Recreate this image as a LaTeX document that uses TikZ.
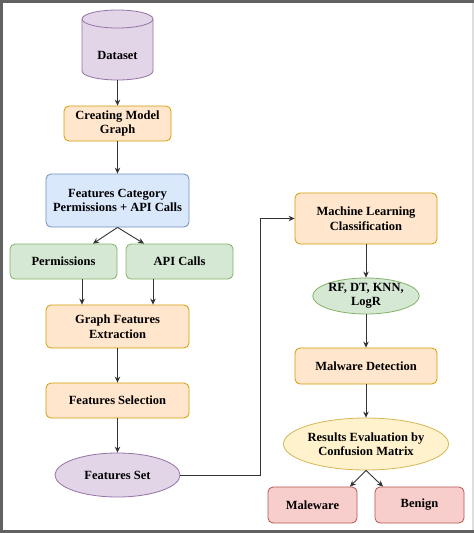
\documentclass[tikz,border=0pt]{standalone}
\usepackage{fontspec}
\setmainfont{Liberation Serif}
\usetikzlibrary{arrows.meta,shapes.geometric}
\definecolor{orF}{HTML}{FFE6CC}\definecolor{orD}{HTML}{D79B00}
\definecolor{blF}{HTML}{DAE8FC}\definecolor{blD}{HTML}{6C8EBF}
\definecolor{grF}{HTML}{D5E8D4}\definecolor{grD}{HTML}{82B366}
\definecolor{puF}{HTML}{E1D5E7}\definecolor{puD}{HTML}{9673A6}
\definecolor{reF}{HTML}{F8CECC}\definecolor{reD}{HTML}{B85450}
\definecolor{yeF}{HTML}{FFF2CC}\definecolor{yeD}{HTML}{D6B656}
\definecolor{lnC}{HTML}{333333}
\begin{document}
\begin{tikzpicture}[x=1pt,y=1pt,
  every node/.style={font=\fontsize{12.5}{14.5}\selectfont\bfseries, text=black, align=center, inner sep=1pt},
  boxs/.style={rectangle, rounded corners=5pt, draw, line width=0.8pt},
  orbox/.style={boxs, fill=orF, draw=orD},
  blbox/.style={boxs, fill=blF, draw=blD},
  grbox/.style={boxs, fill=grF, draw=grD},
  rebox/.style={boxs, fill=reF, draw=reD},
  pues/.style={ellipse, draw=puD, fill=puF, line width=0.8pt},
  grel/.style={ellipse, draw=grD, fill=grF, line width=0.8pt},
  yeel/.style={ellipse, draw=yeD, fill=yeF, line width=0.8pt},
  arr/.style={draw=lnC, line width=0.9pt, -{Stealth[length=6pt,width=5.5pt]}},
]
\useasboundingbox (0,0) rectangle (474,-533);
% frame
\fill[white] (0,0) rectangle (474,-533);
\fill[black!62] (0,0) rectangle (474,-2.5);
\fill[black!62] (0,0) rectangle (2.5,-533);
\fill[black!62] (0,-530) rectangle (474,-533);
\fill[black!13] (471.5,-2.5) rectangle (474,-530);

% dataset cylinder
\filldraw[fill=puF, draw=puD, line width=0.8pt]
  (82,-19) -- (82,-71) arc[start angle=180,end angle=360,x radius=35.5,y radius=9]
  -- (153,-19) arc[start angle=0,end angle=180,x radius=35.5,y radius=9] -- cycle;
\draw[draw=puD, line width=0.8pt] (82,-19) arc[start angle=180,end angle=360,x radius=35.5,y radius=9];
\node[minimum width=71pt, minimum height=70pt] (ds) at (117.5,-45) {};
\node at (117.5,-55) {Dataset};

\node[orbox, minimum width=107pt, minimum height=35pt] (cmg) at (117.5,-123.5) {Creating Model\\Graph};
\node[blbox, minimum width=143pt, minimum height=53pt] (fc) at (117.5,-200.5) {Features Category\\Permissions + API Calls};
\node[grbox, minimum width=107pt, minimum height=35pt] (perm) at (63.5,-261.5) {Permissions};
\node[grbox, minimum width=107pt, minimum height=35pt] (api) at (179.5,-261.5) {API Calls};
\node[orbox, minimum width=143pt, minimum height=43pt] (gfe) at (117.5,-326.5) {Graph Features\\Extraction};
\node[orbox, minimum width=143pt, minimum height=35pt] (fs) at (117.5,-400.5) {Features Selection};
\node[pues, minimum width=125pt, minimum height=44pt, inner sep=0pt] (fset) at (117.5,-475) {Features Set};

\node[orbox, minimum width=142pt, minimum height=51pt] (mlc) at (366,-218.5) {Machine Learning\\Classification};
\node[grel, minimum width=106pt, minimum height=36pt, inner sep=0pt] (rf) at (366,-296) {RF, DT, KNN,\\LogR};
\node[orbox, minimum width=142pt, minimum height=36pt] (md) at (366,-366) {Malware Detection};
\node[yeel, minimum width=143pt, minimum height=52pt, inner sep=0pt] (re) at (366,-444) {Results Evaluation by\\Confusion Matrix};
\node[rebox, minimum width=89pt, minimum height=36pt] (mal) at (312.5,-505) {Maleware};
\node[rebox, minimum width=89pt, minimum height=36pt] (ben) at (419.5,-505) {Benign};

% connectors
\draw[arr] (ds.south) -- (cmg.north);
\draw[arr] (cmg.south) -- (fc.north);
\draw[arr] (fc.south) -- ([xshift=29.5pt]perm.north);
\draw[arr] (fc.south) -- ([xshift=-35.5pt]api.north);
\draw[arr] ([xshift=18.5pt]perm.south) -- ([xshift=18.5pt]perm.south |- gfe.north);
\draw[arr] ([xshift=-26.5pt]api.south) -- ([xshift=-26.5pt]api.south |- gfe.north);
\draw[arr] (gfe.south) -- (fs.north);
\draw[arr] (fs.south) -- (fset.north);
\draw[arr] (fset.east) -- ++(80,0) |- (mlc.west);
\draw[arr] (mlc.south) -- (rf.north);
\draw[arr] (rf.south) -- (md.north);
\draw[arr] (md.south) -- (re.north);
\draw[arr] (re.south) -- ([xshift=37.5pt]mal.north);
\draw[arr] (re.south) -- ([xshift=-36.5pt]ben.north);
\end{tikzpicture}
\end{document}
